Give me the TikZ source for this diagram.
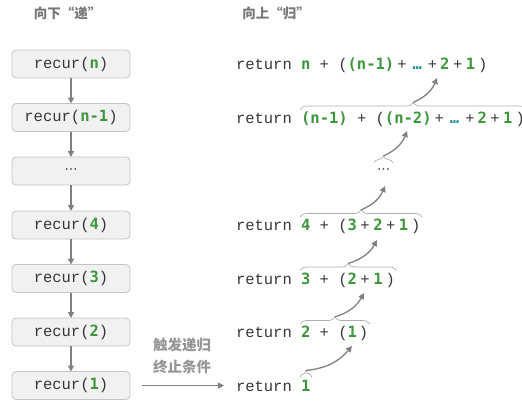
\documentclass[tikz,border=0pt]{standalone}
\usepackage{fontspec}
\setmonofont{Liberation Mono}
\newfontfamily\gfont{DejaVu Sans Mono}
\newfontfamily\cjkfont{Noto Sans CJK SC}
\newfontfamily\dotfont{DejaVu Sans}
\usetikzlibrary{arrows.meta,decorations.pathreplacing}
\definecolor{hgreen}{RGB}{62,150,62}
\definecolor{hteal}{RGB}{40,140,140}
\definecolor{htext}{RGB}{55,55,55}
\definecolor{boxfill}{RGB}{241,241,241}
\definecolor{boxline}{RGB}{196,196,196}
\definecolor{arrgray}{RGB}{128,128,128}
\definecolor{brgray}{RGB}{175,175,175}
\definecolor{titlegray}{RGB}{120,120,120}
\definecolor{labgray}{RGB}{150,150,150}
\newcommand\gr[1]{{\gfont\bfseries\color{hgreen}#1}}
\newcommand\pl{\kern3.5pt+\kern3.5pt}
\newcommand\el{\kern6pt{\gfont\bfseries\color{hteal}…}\kern6pt}
\newcommand\mdots{{\dotfont\fontsize{13pt}{15pt}\selectfont ⋯}}
\begin{document}
\begin{tikzpicture}[x=1pt,y=1pt,
  every node/.style={inner sep=0pt, outer sep=0pt, text=htext,
    font=\ttfamily\fontsize{15.5pt}{18pt}\selectfont},
  callbox/.style={draw=boxline, fill=boxfill, rounded corners=4pt,
    minimum width=118pt, minimum height=28pt, line width=0.8pt},
  line/.style={anchor=base west},
  varrow/.style={draw=arrgray, line width=1.3pt, -{Triangle[length=6pt,width=6pt]}},
  carrow/.style={draw=arrgray, line width=1.3pt, -{Triangle[length=6pt,width=6pt]}},
  brc/.style={draw=brgray, line width=0.7pt, decorate,
    decoration={brace, amplitude=7pt}},
  titlestyle/.style={text=titlegray, font=\cjkfont\bfseries\fontsize{13.5pt}{16pt}\selectfont},
  labstyle/.style={text=labgray, align=center,
    font=\cjkfont\bfseries\fontsize{14.5pt}{22pt}\selectfont}]
\useasboundingbox (0,0) rectangle (522,-405);

% titles
\node[titlestyle] (tl) at (67.5,-13) {向下“递”};
\node[titlestyle] (tr) at (276,-13) {向上“归”};

% left column
\node[callbox] (b1) at (71,-64) {recur(\gr{n})};
\node[callbox] (b2) at (71,-117.5) {recur(\gr{n-1})};
\node[callbox] (b3) at (71,-171) {\mdots};
\node[callbox] (b4) at (71,-225) {recur(\gr{4})};
\node[callbox] (b5) at (71,-278.5) {recur(\gr{3})};
\node[callbox] (b6) at (71,-332) {recur(\gr{2})};
\node[callbox] (b7) at (71,-385.5) {recur(\gr{1})};
\foreach \a/\b in {b1/b2,b2/b3,b3/b4,b4/b5,b5/b6,b6/b7}
  \draw[varrow] (\a) -- (\b);

% right column
\node[line] (r1) at (236,-69.5) {return};
\node[line] (e1) at ([xshift=9.3pt]r1.base east)
  {\gr{n} + (\gr{(n-1)}\kern3pt+\el+\kern3pt\gr{2}\pl\gr{1}\kern3pt)};
\node[line] (r2) at (236,-123) {return};
\node[line] (e2) at ([xshift=9.3pt]r2.base east)
  {\gr{(n-1)} + (\gr{(n-2)}\kern3pt+\el+\kern3pt\gr{2}\pl\gr{1}\kern3pt)};
\node (d3) at (383.5,-171) {\mdots};
\node[line] (r4) at (236,-230.5) {return};
\node[line] (e4) at ([xshift=9.3pt]r4.base east)
  {\gr{4} + (\gr{3}\pl\gr{2}\pl\gr{1}\kern3pt)};
\node[line] (r5) at (236,-284) {return};
\node[line] (e5) at ([xshift=9.3pt]r5.base east)
  {\gr{3} + (\gr{2}\pl\gr{1}\kern3pt)};
\node[line] (r6) at (236,-337.5) {return};
\node[line] (e6) at ([xshift=9.3pt]r6.base east)
  {\gr{2} + (\gr{1}\kern2pt)};
\node[line] (r7) at (236,-391) {return};
\node[line] (e7) at ([xshift=9.3pt]r7.base east) {\gr{1}};

% braces
\foreach \e in {e2,e4,e5,e6,e7}{
  \draw[brc] ([yshift=13.5pt,xshift=-1pt]\e.base west) -- ([yshift=13.5pt,xshift=1.5pt]\e.base east);
  \coordinate (\e tip) at ([yshift=20.5pt]\e.base);
}
\draw[brc] ([xshift=-9.5pt,yshift=8pt]d3.center) -- ([xshift=9.5pt,yshift=8pt]d3.center);
\coordinate (d3tip) at ([yshift=15pt]d3.center);

% targets
\coordinate (t1) at (437,-78);
\coordinate (t2) at (407,-131);
\coordinate (t3) at (385,-186);
\coordinate (t4) at (377,-240);
\coordinate (t5) at (364,-293);
\coordinate (t6) at (352,-346);

\draw[carrow] (e2tip) to[bend right=22] (t1);
\draw[carrow] (d3tip) to[bend right=22] (t2);
\draw[carrow] (e4tip) to[bend right=22] (t3);
\draw[carrow] (e5tip) to[bend right=22] (t4);
\draw[carrow] (e6tip) to[bend right=22] (t5);
\draw[carrow] (e7tip) to[bend right=22] (t6);

% base case
\draw[varrow, shorten <=12pt, shorten >=12pt] (b7.east) -- (b7.east -| r7.west);
\node[labstyle] (lab) at (182,-356) {触发递归\\终止条件};
\end{tikzpicture}
\end{document}
